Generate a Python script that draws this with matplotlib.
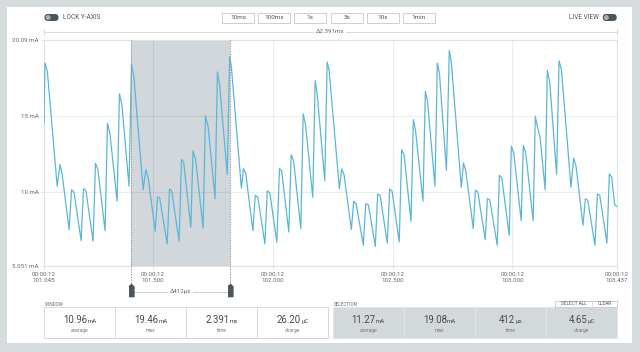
import matplotlib
matplotlib.use('Agg')
import matplotlib.pyplot as plt
from matplotlib.patches import Rectangle, FancyBboxPatch, Circle
from matplotlib.lines import Line2D
from matplotlib.transforms import Affine2D, blended_transform_factory

plt.rcParams['font.family'] = ['Roboto', 'DejaVu Sans']

# current trace (time in ms, current in mA)
time_ms = [101.045, 101.049, 101.059, 101.100, 101.112, 101.120, 101.150, 101.160, 101.170,
           101.200, 101.210, 101.220, 101.250, 101.260, 101.270, 101.300, 101.310, 101.320,
           101.350, 101.360, 101.370, 101.400, 101.410, 101.420, 101.459, 101.470, 101.480,
           101.509, 101.519, 101.528, 101.559, 101.569, 101.578, 101.609, 101.619, 101.628,
           101.658, 101.667, 101.678, 101.709, 101.719, 101.730, 101.759, 101.769, 101.778,
           101.810, 101.820, 101.827, 101.869, 101.878, 101.887, 101.917, 101.927, 101.938,
           101.967, 101.977, 101.988, 102.017, 102.028, 102.037, 102.067, 102.077, 102.087,
           102.117, 102.127, 102.137, 102.167, 102.177, 102.185, 102.217, 102.227, 102.235,
           102.278, 102.288, 102.298, 102.328, 102.338, 102.348, 102.378, 102.388, 102.399,
           102.428, 102.438, 102.448, 102.478, 102.488, 102.498, 102.528, 102.538, 102.548,
           102.577, 102.587, 102.596, 102.627, 102.637, 102.646, 102.677, 102.687, 102.696,
           102.725, 102.737, 102.745, 102.787, 102.796, 102.806, 102.837, 102.846, 102.856,
           102.887, 102.896, 102.906, 102.937, 102.946, 102.956, 102.987, 102.996, 103.006,
           103.037, 103.046, 103.056, 103.087, 103.096, 103.106, 103.116, 103.137, 103.146,
           103.156, 103.185, 103.195, 103.205, 103.245, 103.256, 103.266, 103.295, 103.305,
           103.315, 103.345, 103.355, 103.365, 103.395, 103.405, 103.415, 103.427, 103.437]
current_ma = [14.5, 18.56, 18.0, 10.36, 11.8, 11.24, 7.47, 10.13, 9.98,
              6.74, 10.2, 10.06, 6.7, 11.89, 11.46, 7.4, 14.55, 13.9,
              9.36, 16.52, 15.79, 10.36, 18.49, 17.67, 10.13, 11.46, 10.91,
              7.36, 9.65, 9.58, 6.52, 10.18, 10.06, 6.70, 12.13, 11.97,
              7.63, 12.72, 12.13, 7.58, 15.05, 14.35, 9.53, 17.96, 17.12,
              11.13, 19.0, 18.34, 10.24, 11.53, 11.24, 7.40, 9.76, 9.62,
              6.52, 10.06, 9.91, 6.63, 11.53, 11.4, 7.31, 12.46, 12.06,
              7.54, 15.17, 14.42, 9.62, 17.38, 16.56, 10.73, 18.63, 18.12,
              10.2, 11.51, 11.09, 7.47, 9.36, 9.2, 6.43, 9.2, 9.13,
              6.36, 9.84, 9.76, 6.58, 10.18, 10.02, 6.65, 12.79, 12.46,
              8.03, 14.79, 14.06, 9.36, 16.68, 16.01, 10.36, 18.56, 17.83,
              11.42, 19.4, 18.67, 10.29, 11.91, 11.36, 7.54, 10.1, 9.98,
              6.8, 9.53, 9.46, 6.43, 11.09, 10.91, 7.1, 13.02, 12.57,
              8.07, 13.08, 12.57, 8.07, 15.01, 14.24, 13.62, 10.13, 18.07,
              17.34, 11.13, 18.71, 18.12, 10.29, 12.24, 11.69, 7.76, 9.53,
              9.42, 6.43, 9.84, 9.76, 6.58, 11.18, 10.96, 9.13, 9.0]

x_ticks = [101.045, 101.5, 102.0, 102.5, 103.0, 103.437]
x_labels = ['00:00:12\n101.045', '00:00:12\n101.500', '00:00:12\n102.000',
            '00:00:12\n102.500', '00:00:12\n103.000', '00:00:12\n103.437']
y_ticks = [5.051, 10, 15, 20.09]
y_labels = ['5.051 mA', '10 mA', '15 mA', '20.09 mA']
sel_start, sel_end = 101.410, 101.822

zoom_buttons = ['10ms', '100ms', '1s', '3s', '10s', '1min']
stat_names = ['average', 'max', 'time', 'charge']
window_values = ['10.96', '19.46', '2.391', '26.20']
window_units = ['mA', 'mA', 'ms', 'µC']
selection_values = ['11.27', '19.08', '412', '4.65']
selection_units = ['mA', 'mA', 'µs', 'µC']

W, H = 640, 352
fig = plt.figure(figsize=(W / 100, H / 100), dpi=100, facecolor='#d6dbde')
P = Affine2D().scale(1 / W, -1 / H).translate(0, 1) + fig.transFigure  # pixel coords, y down
txt = '#555555'

fig.add_artist(Rectangle((7, 7), 625, 336, transform=P, fc='white', ec='none', zorder=-1))

# main plot
ax = fig.add_axes([44 / W, 1 - 266 / H, 573 / W, 226 / H])
ax.axvspan(sel_start, sel_end, color='#d2d7db', lw=0, zorder=1)
ax.plot(time_ms, current_ma, color='#5cb6d8', lw=0.9, zorder=3)
ax.set_xlim(x_ticks[0], x_ticks[-1])
ax.set_ylim(y_ticks[0], y_ticks[-1])
ax.set_xticks(x_ticks, x_labels)
ax.set_yticks(y_ticks, y_labels)
ax.tick_params(labelsize=4.4, labelcolor='#666666', color='#dddddd', width=0.6, length=2.5)
ax.tick_params(axis='x', pad=2)
ax.tick_params(axis='y', pad=1.5)
plt.setp(ax.get_xticklabels(), linespacing=1.25)
ax.grid(color='black', alpha=0.07, lw=0.8)
for s in ax.spines.values():
    s.set_color('#e2e2e2')
    s.set_linewidth(0.8)

# selection cursors
B = blended_transform_factory(ax.transData, P)
handle = [(-0.2, -0.5), (0.2, -0.5), (0.2, 0.3), (0, 0.5), (-0.2, 0.3)]
fig.add_artist(Line2D([sel_start, sel_end], [291.5, 291.5], transform=B, color='#cccccc', lw=0.7))
fig.text((sel_start + sel_end) / 2, 291.5, 'Δ412µs', transform=B, ha='center', va='center',
         fontsize=4.4, color='#666666', bbox=dict(fc='white', ec='none', pad=1.2))
for x in (sel_start, sel_end):
    fig.add_artist(Line2D([x, x], [40, 285], transform=B, color='#9a9a9a', lw=0.7, ls=(0, (1.5, 1.2))))
    fig.add_artist(Line2D([x], [290], transform=B, marker=handle, ms=8.8, color='#4b555c', lw=0))

# delta line over the plot
fig.add_artist(Line2D([44, 617], [31.5, 31.5], transform=P, color='#d9d9d9', lw=0.7))
for x in (44, 617):
    fig.add_artist(Line2D([x, x], [28.5, 34.5], transform=P, color='#d9d9d9', lw=0.7))
fig.text(330, 31.5, 'Δ2.391ms', transform=P, ha='center', va='center', fontsize=4.4,
         color='#666666', bbox=dict(fc='white', ec='none', pad=1.5))

# toggles
def toggle(x0):
    fig.add_artist(FancyBboxPatch((x0, 14), 14, 7, boxstyle='round,pad=0,rounding_size=3.5',
                                  transform=P, fc='#4a545b', ec='none'))
    fig.add_artist(Circle((x0 + 3.6, 17.5), 2.5, transform=P, fc='#a6aeb3', ec='none'))

toggle(44.5)
toggle(602.7)
fig.text(63, 17.5, 'LOCK Y-AXIS', transform=P, va='center', fontsize=4.7, color=txt)
fig.text(598.5, 17.5, 'LIVE VIEW', transform=P, va='center', ha='right', fontsize=4.7, color=txt)

# zoom buttons
bx = [222, 258, 294, 331, 367, 403]
for x0, lab in zip(bx, zoom_buttons):
    fig.add_artist(Rectangle((x0, 12.7), 32, 10, transform=P, fc='white', ec='#d0d0d0', lw=0.7))
    fig.text(x0 + 16, 17.7, lab, transform=P, ha='center', va='center', fontsize=4.6, color=txt)

# stats panels
r = fig.canvas.get_renderer()

def stats(x0, x1, title, values, units, face, edge):
    fig.text(x0 + 1, 304, title, transform=P, va='center', fontsize=3.3, color='#666666')
    cw = (x1 - x0) / 4
    fig.add_artist(Rectangle((x0, 307.3), x1 - x0, 31, transform=P, fc=face, ec=edge, lw=0.7))
    for i in range(4):
        if i:
            fig.add_artist(Line2D([x0 + i * cw] * 2, [307.3, 338.3], transform=P, color=edge, lw=0.7))
        cx = x0 + (i + 0.5) * cw
        t1 = fig.text(cx, 322.6, values[i], transform=P, va='baseline', fontsize=6.9, color='#4a4a4a')
        t2 = fig.text(cx, 322.6, units[i], transform=P, va='baseline', fontsize=4.3, color='#4a4a4a')
        w1 = t1.get_window_extent(r).width
        w2 = t2.get_window_extent(r).width
        t1.set_x(cx - (w1 + w2) / 2)
        t2.set_x(cx - (w1 + w2) / 2 + w1 + 0.3)
        fig.text(cx, 330.7, stat_names[i], transform=P, ha='center', va='center', fontsize=3.6, color='#777777')

stats(44.3, 328, 'WINDOW', window_values, window_units, 'white', '#d8d8d8')
stats(332.7, 617.3, 'SELECTION', selection_values, selection_units, '#d3d8db', '#e3e6e8')

fig.add_artist(Rectangle((555, 300.7), 62, 6, transform=P, fc='white', ec='#c8c8c8', lw=0.6))
fig.text(573.5, 303.8, 'SELECT ALL', transform=P, ha='center', va='center', fontsize=3.4, color=txt)
fig.text(592, 303.8, '|', transform=P, ha='center', va='center', fontsize=3.4, color='#999999')
fig.text(605, 303.8, 'CLEAR', transform=P, ha='center', va='center', fontsize=3.4, color=txt)

fig.savefig('out.png', dpi=100, facecolor=fig.get_facecolor())
